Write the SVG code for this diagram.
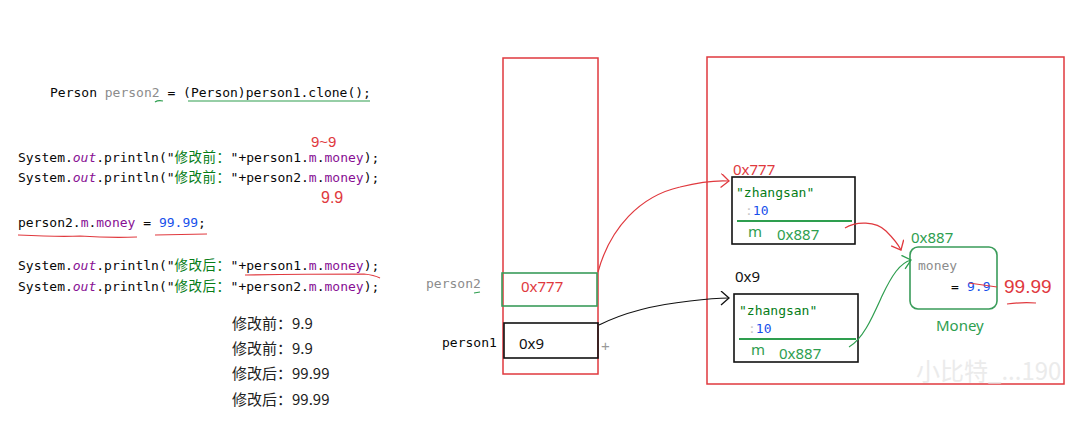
<svg xmlns="http://www.w3.org/2000/svg" width="1082" height="433" viewBox="0 0 1082 433">
<defs>
<style>
.code{font-family:"DejaVu Sans Mono","Liberation Mono",monospace;font-size:13px;fill:#080808}
.cjk{font-family:"Noto Sans CJK SC",sans-serif;font-size:13.5px}
.gray{fill:#8c8c8c}
.pur{fill:#871094}
.str{fill:#067d17}
.num{fill:#1750eb}
.out{font-family:"Noto Sans CJK SC","Noto Sans",sans-serif;font-size:15px;fill:#222}
.hex{font-family:"Noto Sans","Liberation Sans",sans-serif;font-size:15px}
.red{fill:#e0393e}
.grn{fill:#2e9e4f}
.blk{fill:#111}
.hand{font-family:"Liberation Sans",sans-serif;fill:#e0393e}
.box{fill:none;stroke:#111;stroke-width:1.6}
.rbox{fill:none;stroke:#e0393e;stroke-width:1.5}
.gbox{fill:none;stroke:#3a9c5a;stroke-width:1.6}
.gline{stroke:#2e9e4f;stroke-width:2}
.rl{fill:none;stroke:#e0393e;stroke-width:1.2}
.gl{fill:none;stroke:#2e9e4f;stroke-width:1.2}
</style>
<marker id="ar" markerUnits="userSpaceOnUse" markerWidth="12" markerHeight="16" refX="9" refY="7" orient="auto"><path d="M1,0 L9,7 L1,14" fill="none" stroke="#e0393e" stroke-width="1.3"/></marker>
<marker id="ak" markerUnits="userSpaceOnUse" markerWidth="12" markerHeight="16" refX="9" refY="7" orient="auto"><path d="M1,0 L9,7 L1,14" fill="none" stroke="#111" stroke-width="1.3"/></marker>
<marker id="ag" markerUnits="userSpaceOnUse" markerWidth="12" markerHeight="16" refX="9" refY="7" orient="auto"><path d="M1,0 L9,7 L1,14" fill="none" stroke="#2e9e4f" stroke-width="1.3"/></marker>
</defs>
<rect width="1082" height="433" fill="#fff"/>

<g id="code">
<text class="code" x="50" y="97">Person <tspan class="gray">person2</tspan> = (Person)person1.clone();</text>
<path d="M188,101 L370,101" class="gl" stroke-width="1.4"/>
<path d="M155,102 Q158,100 163,101" class="gl"/>
<text class="code" x="18" y="162">System.<tspan class="pur" font-style="italic">out</tspan>.println("<tspan class="str cjk" letter-spacing="0.5">修改前：</tspan>"+person1.<tspan class="pur">m</tspan>.<tspan class="pur">money</tspan>);</text>
<text class="code" x="18" y="182">System.<tspan class="pur" font-style="italic">out</tspan>.println("<tspan class="str cjk" letter-spacing="0.5">修改前：</tspan>"+person2.<tspan class="pur">m</tspan>.<tspan class="pur">money</tspan>);</text>
<text class="hand" x="311" y="147" font-size="15">9~9</text>
<text class="hand" x="321" y="203" font-size="16">9.9</text>
<text class="code" x="18" y="227">person2.<tspan class="pur">m</tspan>.<tspan class="pur">money</tspan> = <tspan class="num">99.99</tspan>;</text>
<path d="M18,235 Q60,237 80,236 Q110,238 137,237" class="rl"/>
<path d="M155,235 L207,234" class="rl"/>
<text class="code" x="18" y="270">System.<tspan class="pur" font-style="italic">out</tspan>.println("<tspan class="str cjk" letter-spacing="0.5">修改后：</tspan>"+person1.<tspan class="pur">m</tspan>.<tspan class="pur">money</tspan>);</text>
<path d="M245,275 Q300,274 364,274 Q374,275 380,278" class="rl"/>
<text class="code" x="18" y="291">System.<tspan class="pur" font-style="italic">out</tspan>.println("<tspan class="str cjk" letter-spacing="0.5">修改后：</tspan>"+person2.<tspan class="pur">m</tspan>.<tspan class="pur">money</tspan>);</text>
<text class="out" x="232" y="329">修改前：9.9</text>
<text class="out" x="232" y="354">修改前：9.9</text>
<text class="out" x="232" y="379">修改后：99.99</text>
<text class="out" x="232" y="405">修改后：99.99</text>
</g>

<g id="stack">
<rect class="rbox" x="503" y="58" width="95" height="316"/>
</g>
<g id="person2-cell">
<rect class="gbox" x="502" y="273" width="95" height="33"/>
<text class="hex red" x="521" y="292">0x777</text>
<text class="code gray" x="426" y="288">person2</text>
<path d="M474,293 L480,292" class="gl"/>
</g>
<g id="person1-cell">
<rect class="box" x="504" y="323" width="94" height="35"/>
<text class="hex blk" x="519" y="349">0x9</text>
<text class="code" x="442" y="347">person1</text>
<text x="601" y="351" font-family="Liberation Sans,sans-serif" font-size="15" fill="#999">+</text>
</g>

<g id="heap">
<rect class="rbox" x="707" y="57" width="357" height="327"/>
<text x="916" y="380" font-family="Noto Sans CJK SC,sans-serif" font-size="24" fill="#ebebeb">小比特_...190</text>
</g>

<g id="obj-0x777">
<text class="hex red" x="733" y="175">0x777</text>
<rect class="box" x="732" y="177" width="123" height="67"/>
<text class="code str" x="736" y="197" font-size="12.5">"zhangsan"</text>
<text class="code" x="745" y="215" font-size="12.5"><tspan fill="#c8c8c8">:</tspan><tspan class="num">10</tspan></text>
<line class="gline" x1="737" y1="221" x2="852" y2="221"/>
<text class="hex grn" x="748" y="237" font-size="14">m</text>
<text class="hex grn" x="777" y="240">0x887</text>
</g>

<g id="obj-0x9">
<text class="hex blk" x="735" y="282">0x9</text>
<rect class="box" x="734" y="294" width="124" height="68"/>
<text class="code str" x="739" y="315" font-size="12.5">"zhangsan"</text>
<text class="code" x="748" y="333" font-size="12.5"><tspan fill="#c8c8c8">:</tspan><tspan class="num">10</tspan></text>
<line class="gline" x1="739" y1="339" x2="856" y2="339"/>
<text class="hex grn" x="751" y="355" font-size="14">m</text>
<text class="hex grn" x="779" y="359">0x887</text>
</g>

<g id="money">
<text class="hex grn" x="911" y="243">0x887</text>
<rect class="gbox" x="910" y="247" width="87" height="62" rx="8"/>
<text class="code gray" x="918" y="270">money</text>
<text class="code" x="951" y="291">=</text>
<text class="code num" x="967" y="291">9.9</text>
<path d="M969,283 L997,287" class="rl"/>
<text class="hand" x="1004" y="293" font-size="19">99.99</text>
<path d="M1007,304 Q1022,302 1036,303" class="rl"/>
<text class="hex grn" x="936" y="331">Money</text>
</g>

<g id="connectors">
<path d="M598,272 C610,228 640,196 680,187 C700,182 714,180 729,181" class="rl" marker-end="url(#ar)"/>
<path d="M599,325 C625,312 652,305 690,301 C706,299 716,298 729,298" fill="none" stroke="#111" stroke-width="1.2" marker-end="url(#ak)"/>
<path d="M845,228 C856,221 876,221 886,231 C893,238 898,244 901,250" class="rl" marker-end="url(#ar)"/>
<path d="M849,347 C863,339 872,318 882,296 C892,275 900,263 911,260" class="gl" marker-end="url(#ag)"/>
</g>
</svg>
